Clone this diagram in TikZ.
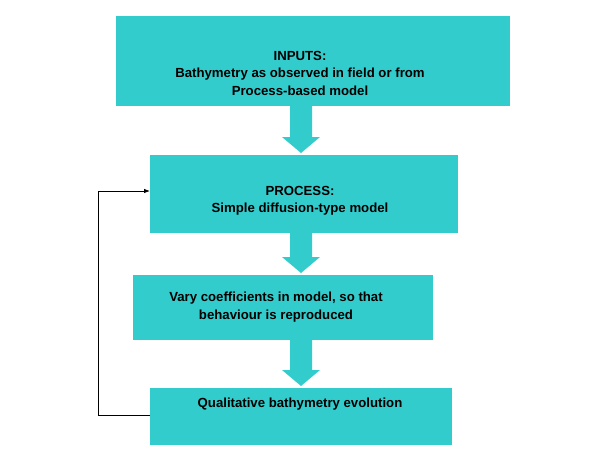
\documentclass[tikz,border=0pt]{standalone}
\usepackage{fontspec}
\setmainfont{Liberation Sans}
\usetikzlibrary{arrows.meta}
\definecolor{turq}{HTML}{33CCCC}
\begin{document}
\begin{tikzpicture}[x=1pt,y=-1pt,
  txt/.style={font=\bfseries\fontsize{13.2}{17.5}\selectfont,align=center}]
\useasboundingbox (0,0) rectangle (600,450);
\fill[turq] (116,16) rectangle (510,106);
\fill[turq] (150,155) rectangle (458,233);
\fill[turq] (133,275) rectangle (433,340);
\fill[turq] (150,388) rectangle (452,445);
\node[txt] (t1) at (300,73) {INPUTS:\\Bathymetry as observed in field or from\\Process-based model};
\node[txt] (t2) at (300,201) {PROCESS:\\Simple diffusion-type model};
\node[txt] (t3) at (276,307) {Vary coefficients in model, so that\\behaviour is reproduced};
\node[txt] (t4) at (300,404) {Qualitative bathymetry evolution};
\foreach \a/\b in {106/153,233/273,340/386}{
  \fill[turq] (290,\a) -- (312,\a) -- (312,\b-16) -- (320,\b-16) -- (301,\b) -- (282,\b-16) -- (290,\b-16) -- cycle;}
\coordinate (s) at (150,415);
\coordinate (e) at (150,191);
\draw[line width=0.8pt,-{Latex[length=6pt]}] (s) -- (98,415) -- (98,191) -- (e);
\end{tikzpicture}
\end{document}
